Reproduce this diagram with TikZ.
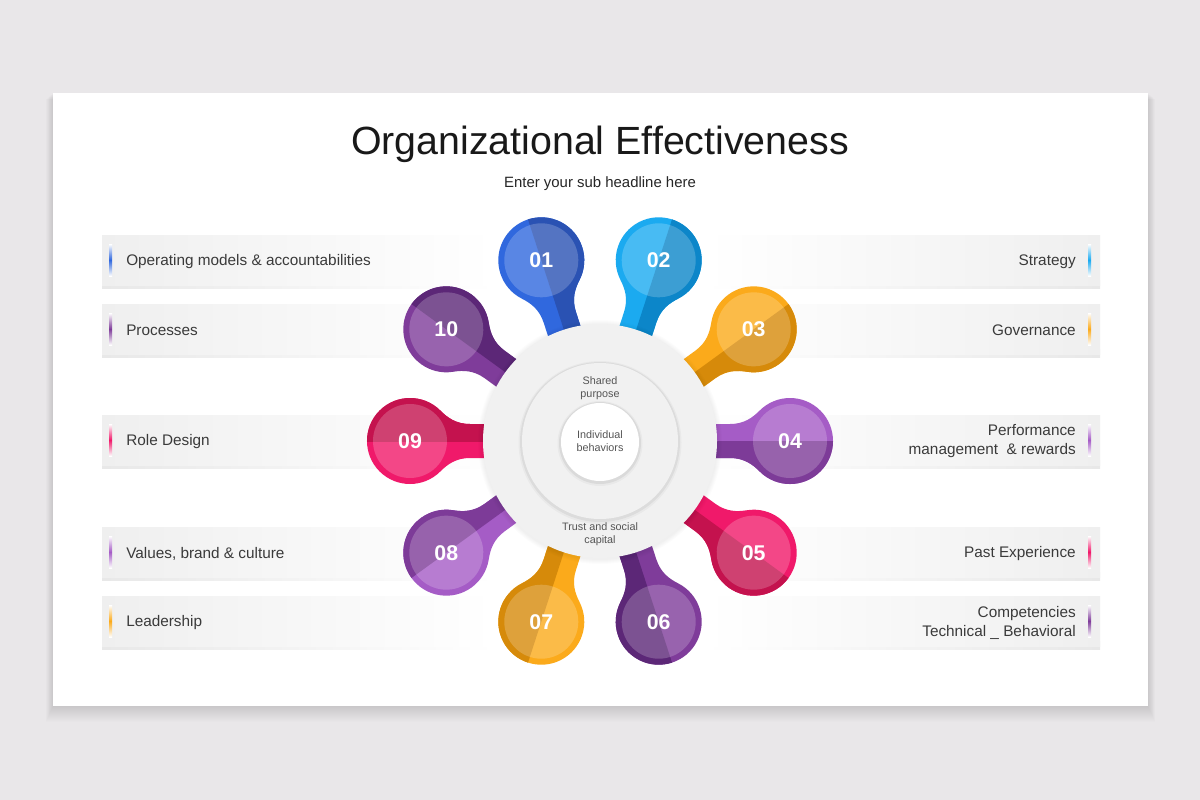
\documentclass[tikz,border=0pt]{standalone}
\usepackage{fontspec}
\setmainfont{Liberation Sans}
\definecolor{bgG}{HTML}{E9E7E9}
\definecolor{barG}{HTML}{EFEFEF}
\definecolor{shG}{HTML}{E8E8E8}
\definecolor{ringG}{HTML}{F1F1F1}
\definecolor{txt}{HTML}{3A3A3A}
\definecolor{ctxt}{HTML}{555555}
\definecolor{blueL}{HTML}{3068DE}\definecolor{blueD}{HTML}{2A52B3}
\definecolor{skyL}{HTML}{1BAAF0}\definecolor{skyD}{HTML}{0C86C9}
\definecolor{orgL}{HTML}{FBAA1B}\definecolor{orgD}{HTML}{D68A0A}
\definecolor{purL}{HTML}{A55CC6}\definecolor{purD}{HTML}{7D3B98}
\definecolor{pinkL}{HTML}{F0196A}\definecolor{pinkD}{HTML}{C4124E}
\definecolor{dpurL}{HTML}{7F3C9A}\definecolor{dpurD}{HTML}{5C2777}
\newcommand\petalfill[1]{\fill[#1] (-95,17) -- (-60,17) .. controls (-46,17) and (-37.5,23.3) .. (-30.4,30.4)
  arc[start angle=135, end angle=-135, radius=43]
  .. controls (-37.5,-23.3) and (-46,-17) .. (-60,-17) -- (-95,-17) -- cycle;}
\newcommand\petal[5]{%
\begin{scope}[shift={(600,-441)},rotate=#1]
 \begin{scope}[shift={(190,0)}]
  \petalfill{#2}
  \begin{scope}
   \clip (-120,0) rectangle (60,-60);
   \petalfill{#3}
  \end{scope}
  \fill[white,opacity=0.2] (0,0) circle (37);
  \node[numtext] (#5) at (0,0) {#4};
 \end{scope}
\end{scope}}
\newcommand\leftbar[4]{% y, color, text, name
  \shade[left color=shG, right color=white] (102,-#1-20) rectangle (495,-#1-28);
  \shade[left color=barG, right color=white] (102,-#1+25) rectangle (495,-#1-25);
  \shade[top color=white, bottom color=white, middle color=#2] (109,-#1+16) rectangle (112,-#1-16);
  \node[lbl, anchor=west] (#4) at (126,-#1-1.5) {#3};}
\newcommand\rightbar[4]{% y, color, text, name
  \shade[left color=white, right color=shG] (705,-#1-20) rectangle (1100,-#1-28);
  \shade[left color=white, right color=barG] (705,-#1+25) rectangle (1100,-#1-25);
  \shade[top color=white, bottom color=white, middle color=#2] (1088,-#1+16) rectangle (1091,-#1-16);
  \node[lbl, anchor=east, align=right] (#4) at (1076,-#1-1.5) {#3};}
\tikzset{
  numtext/.style={text=white, font=\fontsize{16}{18}\selectfont\bfseries, inner sep=0},
  lbl/.style={text=txt, font=\fontsize{11.5}{14.25}\selectfont, inner sep=0},
  ctr/.style={text=ctxt, font=\fontsize{8.1}{9.8}\selectfont, align=center, inner sep=0},
}
\begin{document}
\begin{tikzpicture}[x=0.75pt,y=0.75pt]
\useasboundingbox (0,0) rectangle (1200,-800);
\fill[bgG] (0,0) rectangle (1200,-800);
% card shadow
\foreach \i in {1,...,16}{
  \fill[black,opacity=0.008] (53-\i*0.45,-93-\i*0.4) rectangle (1148+\i*0.45,-706-\i*1.0);
}
\fill[white] (53,-93) rectangle (1148,-706);
% title
\node[text=black!90, font=\fontsize{29.5}{34}\selectfont, inner sep=0] (title) at (600,-144.5) {Organizational Effectiveness};
\node[text=black!85, font=\fontsize{11.2}{13}\selectfont, inner sep=0] (sub) at (600,-183.5) {Enter your sub headline here};
% bars
\leftbar{260}{blueL}{Operating models \& accountabilities}{l1}
\leftbar{329}{dpurL}{Processes}{l2}
\leftbar{440}{pinkL}{Role Design}{l3}
\leftbar{552}{purL}{Values, brand \& culture}{l4}
\leftbar{621}{orgL}{Leadership}{l5}
\rightbar{260}{skyL}{Strategy}{r1}
\rightbar{329}{orgL}{Governance}{r2}
\rightbar{440}{purL}{Performance\\management~ \& rewards}{r3}
\rightbar{552}{pinkL}{Past Experience}{r4}
\rightbar{621}{dpurL}{Competencies\\Technical \_ Behavioral}{r5}
% petals
\petal{108}{blueL}{blueD}{01}{p1}
\petal{72}{skyL}{skyD}{02}{p2}
\petal{36}{orgL}{orgD}{03}{p3}
\petal{0}{purL}{purD}{04}{p4}
\petal{-36}{pinkL}{pinkD}{05}{p5}
\petal{-72}{dpurL}{dpurD}{06}{p6}
\petal{-108}{orgL}{orgD}{07}{p7}
\petal{-144}{purL}{purD}{08}{p8}
\petal{180}{pinkL}{pinkD}{09}{p9}
\petal{144}{dpurL}{dpurD}{10}{p10}
% center
\foreach \i in {1,...,5}{ \fill[black,opacity=0.012] (600,-442) circle (117+\i); }
\fill[ringG] (600,-441) circle (117);
\fill[black,opacity=0.05] (600,-442) circle (80);
\fill[black,opacity=0.03] (600,-442.5) circle (81.5);
\fill[ringG] (600,-441) circle (78);
\fill[black,opacity=0.06] (600,-443) circle (41);
\fill[black,opacity=0.03] (600,-443.5) circle (42.5);
\fill[white] (600,-442) circle (39);
\node[ctr] (shared) at (600,-388) {Shared\\purpose};
\node[ctr] (indiv) at (600,-441) {Individual\\behaviors};
\node[ctr] (trust) at (600,-534) {Trust and social\\capital};
\end{tikzpicture}
\end{document}
